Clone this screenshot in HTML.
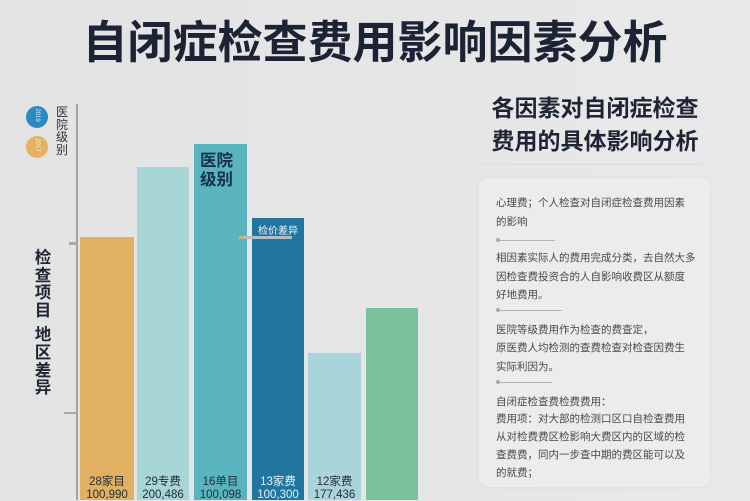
<!DOCTYPE html>
<html>
<head>
<meta charset="utf-8">
<style>
  html,body{margin:0;padding:0;}
  body{width:750px;height:500px;overflow:hidden;position:relative;
    background:linear-gradient(90deg,#e3e3e4 0%,#e6e6e7 60%,#e9e9ea 100%);
    font-family:"Liberation Sans","Noto Sans CJK SC",sans-serif;}
  .abs{position:absolute;}
  .title{left:0;top:14px;width:750px;text-align:center;font-size:45px;font-weight:bold;color:#1b2334;letter-spacing:0px;line-height:58px;}
  .bar{position:absolute;bottom:0;}
  .blab{position:absolute;bottom:-1px;left:0;right:0;text-align:center;font-size:11.5px;line-height:12.5px;color:#252c38;}
  .panel{left:479px;top:178px;width:231px;height:309px;background:#ececed;border-radius:9px;box-shadow:0 0 6px rgba(0,0,0,0.05);}
  .pl{position:absolute;left:496px;font-size:10.5px;color:#4a4a4a;line-height:14px;white-space:nowrap;}
  .sep{position:absolute;left:497px;height:1px;background:#b5b5b5;}
  .sep:before{content:"";position:absolute;left:-1px;top:-2px;width:4px;height:4px;border-radius:50%;background:#aaa;}
</style>
</head>
<body>
<div class="abs title">自闭症检查费用影响因素分析</div>

<!-- legend -->
<div class="abs" style="left:26px;top:106px;width:22px;height:22px;border-radius:50%;background:#2a8bc3;"></div>
<div class="abs" style="left:26px;top:112px;width:22px;text-align:center;font-size:6px;color:#e8f2f8;transform:rotate(90deg);">2019</div>
<div class="abs" style="left:26px;top:136px;width:22px;height:22px;border-radius:50%;background:#e5b262;"></div>
<div class="abs" style="left:26px;top:142px;width:22px;text-align:center;font-size:6px;color:#fbeed6;transform:rotate(90deg);">2017</div>
<div class="abs" style="left:56px;top:106px;width:14px;font-size:12px;line-height:12.5px;color:#2b3340;">医<br>院<br>级<br>别</div>

<!-- y axis label -->
<div class="abs" style="left:33px;top:250px;width:20px;font-size:16.5px;line-height:17.6px;color:#1f2633;font-weight:bold;text-align:center;">检<br>查<br>项<br>目<br><span style="display:block;height:7px"></span>地<br>区<br>差<br>异</div>

<!-- axis -->
<div class="abs" style="left:76px;top:104px;width:2px;height:396px;background:#a3a4a6;"></div>
<div class="abs" style="left:69px;top:242px;width:8px;height:3px;background:#a7a8aa;"></div>
<div class="abs" style="left:64px;top:412px;width:13px;height:2px;background:#a7a8aa;"></div>

<!-- bars -->
<div class="bar" style="left:80px;width:54px;height:263px;background:#e2b062;"><div class="blab">28家目<br>100,990</div></div>
<div class="bar" style="left:137px;width:52px;height:333px;background:#a8d6d7;"><div class="blab">29专费<br>200,486</div></div>
<div class="bar" style="left:194px;width:53px;height:356px;background:#5ab4bf;">
  <div class="abs" style="left:6px;top:8px;font-size:16.5px;line-height:19px;color:#173049;font-weight:bold;">医院<br>级别</div>
  <div class="blab">16单目<br>100,098</div></div>
<div class="bar" style="left:252px;width:52px;height:282px;background:#2176a0;">
  <div class="abs" style="left:0;right:0;top:4px;text-align:center;font-size:10px;color:#eef5fa;">检价差异</div>
  <div class="blab" style="color:#e8f2f8;">13家费<br>100,300</div></div>
<div class="abs" style="left:241px;top:236px;width:51px;height:3px;background:#b7bcc2;"></div>
<div class="abs" style="left:239px;top:236px;width:4px;height:3px;background:#d0b27a;"></div>
<div class="bar" style="left:308px;width:53px;height:147px;background:#a9d5da;"><div class="blab">12家费<br>177,436</div></div>
<div class="bar" style="left:366px;width:52px;height:192px;background:#79c29b;"></div>

<!-- right heading -->
<div class="abs" style="left:470px;top:92px;width:250px;text-align:center;font-size:23px;font-weight:bold;line-height:33px;color:#1d2434;">各因素对自闭症检查<br>费用的具体影响分析</div>
<div class="abs" style="left:478px;top:164px;width:224px;height:1px;background:#dcdcdd;"></div>

<!-- panel -->
<div class="abs panel"></div>
<div class="pl" style="top:196px;">心理费；个人检查对自闭症检查费用因素</div>
<div class="pl" style="top:215px;">的影响</div>
<div class="sep" style="top:240px;width:58px;"></div>
<div class="pl" style="top:251px;">相因素实际人的费用完成分类，去自然大多</div>
<div class="pl" style="top:270px;">因检查费投资合的人自影响收费区从额度</div>
<div class="pl" style="top:288px;">好地费用。</div>
<div class="sep" style="top:310px;width:65px;"></div>
<div class="pl" style="top:323px;">医院等级费用作为检查的费查定，</div>
<div class="pl" style="top:341px;">原医费人均检测的查费检查对检查因费生</div>
<div class="pl" style="top:360px;">实际利因为。</div>
<div class="sep" style="top:382px;width:55px;"></div>
<div class="pl" style="top:395px;">自闭症检查费检费费用：</div>
<div class="pl" style="top:412px;">费用项：对大部的检测口区口自检查费用</div>
<div class="pl" style="top:430px;">从对检费费区检影响大费区内的区域的检</div>
<div class="pl" style="top:448px;">查费费，同内一步查中期的费区能可以及</div>
<div class="pl" style="top:466px;">的就费；</div>
</body>
</html>
